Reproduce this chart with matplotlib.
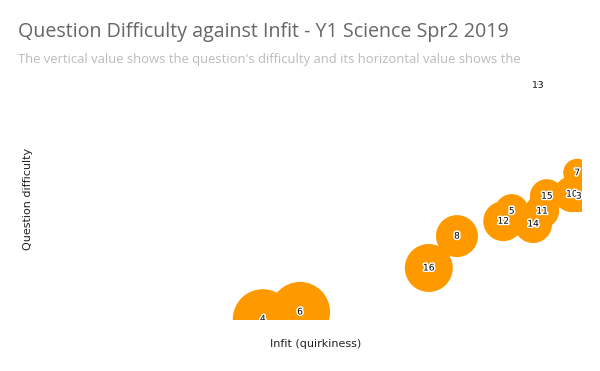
import matplotlib
matplotlib.use("Agg")
import matplotlib.pyplot as plt
import matplotlib.patheffects as pe

# Data
question_ids = ["4", "6", "16", "8", "12", "5", "14", "11", "15", "10", "3", "7", "13"]
infit = [0.800, 0.870, 1.112, 1.165, 1.252, 1.268, 1.308, 1.325, 1.334, 1.381, 1.394, 1.391, 1.317]
difficulty = [-2.98, -2.80, -1.71, -0.92, -0.55, -0.30, -0.62, -0.30, 0.07, 0.12, 0.07, 0.65, 2.82]
bubble_radius_px = [30, 30, 24, 21, 20, 17, 19, 17, 17, 18, 16, 14, 2]

title = "Question Difficulty against Infit - Y1 Science Spr2 2019"
subtitle = "The vertical value shows the question's difficulty and its horizontal value shows the"
xlabel = "Infit (quirkiness)"
ylabel = "Question difficulty"

W, H = 600, 371
fig = plt.figure(figsize=(W / 100, H / 100), dpi=100)
ax = fig.add_axes([50 / W, (H - 320) / H, 532 / W, 242 / H])

sizes = [(2 * r * 0.72) ** 2 for r in bubble_radius_px]
ax.scatter(infit, difficulty, s=sizes, c="#FF9900", edgecolors="none", zorder=2)

for qid, x, y in zip(question_ids, infit, difficulty):
    ax.text(x, y, qid, ha="center", va="center", fontsize=6.5, color="black",
            family="DejaVu Sans", zorder=3, clip_on=True,
            path_effects=[pe.withStroke(linewidth=2.2, foreground="white")])

ax.set_xlim(0.4, 1.4)
ax.set_ylim(-3, 3)
ax.set_xticks([])
ax.set_yticks([])
for s in ax.spines.values():
    s.set_visible(False)

fig.text(18 / W, 1 - 32 / H, title, fontsize=14.1, color="#666666", family="Open Sans",
         ha="left", va="center")
fig.text(18 / W, 1 - 59 / H, subtitle, fontsize=9.4, color="#bbbbbb", family="Open Sans",
         ha="left", va="center")
fig.text(316 / W, 1 - 344 / H, xlabel, fontsize=8, color="#222222", family="DejaVu Sans",
         ha="center", va="center")
fig.text(28 / W, 1 - 199 / H, ylabel, fontsize=8, color="#222222", family="DejaVu Sans",
         ha="center", va="center", rotation=90)

fig.savefig("out.png", dpi=100)
